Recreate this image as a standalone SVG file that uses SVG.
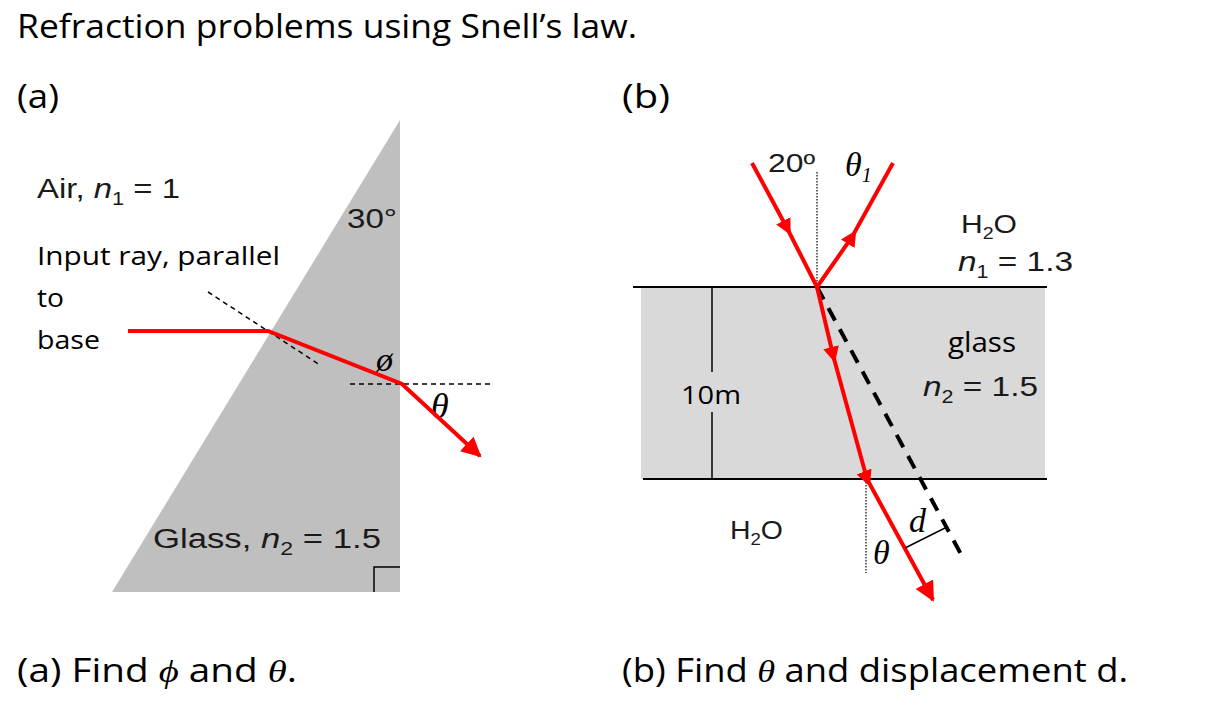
<svg xmlns="http://www.w3.org/2000/svg" width="1219" height="713" viewBox="0 0 1219 713">
<style>
.cal{font-family:"Open Sans","Liberation Sans",sans-serif;fill:#000}
.ar{font-family:"Liberation Sans",Arial,sans-serif;fill:#1a1a1a}
.it{font-family:"Liberation Serif","Times New Roman",serif;font-style:italic}
.ray{stroke:#f00;stroke-width:4;fill:none}
</style>
<defs>
<marker id="ah" viewBox="0 0 10 10" refX="9" refY="5" markerWidth="5" markerHeight="5" orient="auto"><path d="M0,0L10,5L0,10z" fill="#f00"/></marker>
<marker id="mid" viewBox="0 0 10 10" refX="5" refY="5" markerWidth="4" markerHeight="5" orient="auto"><path d="M0,0L10,5L0,10z" fill="#f00"/></marker>
</defs>
<rect width="1219" height="713" fill="#fff"/>
<text class="cal" x="17" y="38" font-size="32" textLength="620" lengthAdjust="spacingAndGlyphs">Refraction problems using Snell’s law.</text>
<text class="cal" x="17" y="108" font-size="32" textLength="42" lengthAdjust="spacingAndGlyphs">(a)</text>
<text class="cal" x="622" y="108" font-size="32" textLength="48" lengthAdjust="spacingAndGlyphs">(b)</text>
<g id="prism">
<polygon points="400,120 400,592 112,592" fill="#bfbfbf"/>
<path d="M374,592V567H400" stroke="#000" stroke-width="1.5" fill="none"/>
</g>
<g id="labels-a">
<text class="ar" x="37" y="198" font-size="27" textLength="143" lengthAdjust="spacingAndGlyphs">Air, <tspan font-style="italic">n</tspan><tspan font-size="18" dy="7">1</tspan><tspan dy="-7"> = 1</tspan></text>
<text class="cal" x="37" y="265" font-size="26" textLength="243" lengthAdjust="spacingAndGlyphs">Input ray, parallel</text>
<text class="cal" x="37" y="307" font-size="26" textLength="27" lengthAdjust="spacingAndGlyphs">to</text>
<text class="cal" x="37" y="349" font-size="26" textLength="63" lengthAdjust="spacingAndGlyphs">base</text>
<text class="ar" x="347" y="228" font-size="27" textLength="50" lengthAdjust="spacingAndGlyphs">30°</text>
<text class="ar" x="153" y="548" font-size="27" textLength="228" lengthAdjust="spacingAndGlyphs">Glass, <tspan font-style="italic">n</tspan><tspan font-size="18" dy="7">2</tspan><tspan dy="-7"> = 1.5</tspan></text>
<text class="it" x="376" y="371" font-size="34">ø</text>
<text class="it" x="431" y="418" font-size="36">θ</text>
</g>
<g id="connectors">
<line x1="208" y1="292" x2="320" y2="365" stroke="#000" stroke-width="1.5" stroke-dasharray="5,4"/>
<line x1="350" y1="384" x2="490" y2="384" stroke="#000" stroke-width="1.5" stroke-dasharray="5,4"/>
<polyline class="ray" points="128,331 268,331 402,384 480,456" marker-end="url(#ah)"/>
<line x1="817" y1="172" x2="817" y2="287" stroke="#000" stroke-width="1.2" stroke-dasharray="1.5,1.5"/>
<line x1="866" y1="479" x2="866" y2="573" stroke="#000" stroke-width="1.2" stroke-dasharray="1.5,1.5"/>
</g>
<g id="slab">
<rect x="641" y="287" width="404" height="192" fill="#d9d9d9"/>
<line x1="633" y1="287" x2="1047" y2="287" stroke="#000" stroke-width="2"/>
<line x1="643" y1="479" x2="1047" y2="479" stroke="#000" stroke-width="2"/>
<line x1="712" y1="287" x2="712" y2="372" stroke="#000" stroke-width="1.5"/>
<line x1="712" y1="412" x2="712" y2="479" stroke="#000" stroke-width="1.5"/>
</g>
<g id="rays-b">
<line x1="817" y1="287" x2="963" y2="558" stroke="#000" stroke-width="4" stroke-dasharray="14,10"/>
<polyline class="ray" points="752,163 787,228 817,287" stroke-width="3.5" marker-mid="url(#mid)"/>
<polyline class="ray" points="817,287 852,237 893,163" stroke-width="4" marker-mid="url(#mid)"/>
<polyline class="ray" points="817,287 833,355 867,479 933,600" stroke-width="3.5" marker-mid="url(#mid)" marker-end="url(#ah)"/>
<line x1="905" y1="548" x2="945" y2="528" stroke="#000" stroke-width="1.5"/>
</g>
<g id="labels-b">
<text class="ar" x="768" y="172" font-size="26" textLength="47" lengthAdjust="spacingAndGlyphs">20º</text>
<text class="it" x="845" y="176" font-size="34">θ<tspan font-size="20" dy="6">1</tspan></text>
<text class="ar" x="961" y="233" font-size="26" textLength="56" lengthAdjust="spacingAndGlyphs">H<tspan font-size="17" dy="6">2</tspan><tspan dy="-6">O</tspan></text>
<text class="ar" x="958" y="271" font-size="28" textLength="115" lengthAdjust="spacingAndGlyphs"><tspan font-style="italic">n</tspan><tspan font-size="18" dy="7">1</tspan><tspan dy="-7"> = 1.3</tspan></text>
<text class="cal" x="948" y="352" font-size="28" textLength="68" lengthAdjust="spacingAndGlyphs">glass</text>
<text class="ar" x="923" y="396" font-size="28" textLength="115" lengthAdjust="spacingAndGlyphs"><tspan font-style="italic">n</tspan><tspan font-size="18" dy="7">2</tspan><tspan dy="-7"> = 1.5</tspan></text>
<text class="cal" x="681" y="404" font-size="26" textLength="60" lengthAdjust="spacingAndGlyphs">10m</text>
<text class="ar" x="730" y="539" font-size="26" textLength="53" lengthAdjust="spacingAndGlyphs">H<tspan font-size="17" dy="6">2</tspan><tspan dy="-6">O</tspan></text>
<text class="it" x="873" y="564" font-size="34">θ</text>
<text class="it" x="909" y="532" font-size="34">d</text>
</g>
<text class="cal" x="17" y="682" font-size="32" textLength="280" lengthAdjust="spacingAndGlyphs">(a) Find <tspan class="it">ϕ</tspan> and <tspan class="it">θ</tspan>.</text>
<text class="cal" x="622" y="682" font-size="32" textLength="506" lengthAdjust="spacingAndGlyphs">(b) Find <tspan class="it">θ</tspan> and displacement d.</text>
</svg>
